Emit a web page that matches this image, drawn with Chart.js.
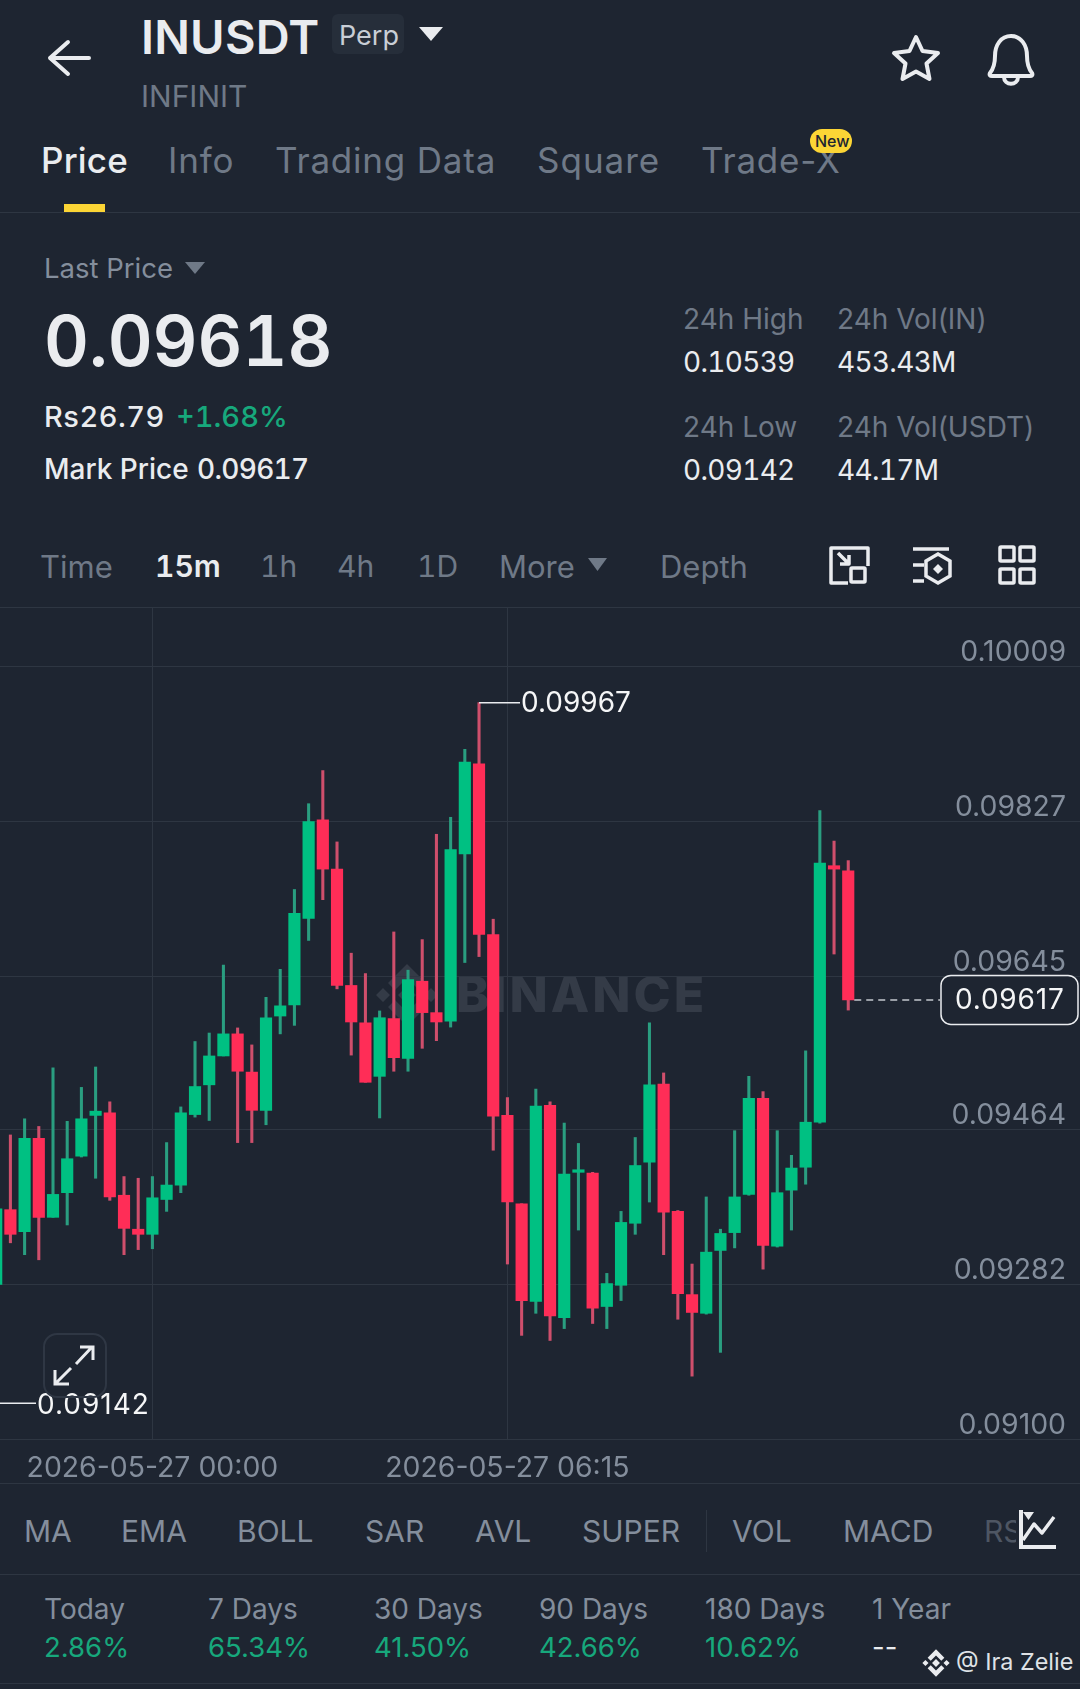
<!DOCTYPE html>
<html><head><meta charset="utf-8">
<script src="https://cdn.jsdelivr.net/npm/chart.js@4"></script>
<style>
html,body{margin:0;padding:0;background:#1e2531;width:1080px;height:1689px;overflow:hidden}
body{position:relative;font-family:Inter,"Noto Sans",sans-serif}
.t{position:absolute;white-space:nowrap;transform:translateY(-50%);line-height:1}
.r{position:absolute;left:0;width:1080px;height:1px;background:#2e3642}
svg{position:absolute;overflow:visible}
canvas{position:absolute;left:0;top:607px}
</style></head><body>
<div id="ui"></div>
<canvas id="c" width="1080" height="876"></canvas>
<div id="top"></div>
<script>
const times=['21:15','21:30','21:45','22:00','22:15','22:30','22:45','23:00','23:15','23:30','23:45',
'00:00','00:15','00:30','00:45','01:00','01:15','01:30','01:45','02:00','02:15','02:30','02:45','03:00','03:15','03:30','03:45',
'04:00','04:15','04:30','04:45','05:00','05:15','05:30','05:45','06:00','06:15','06:30','06:45','07:00','07:15','07:30','07:45',
'08:00','08:15','08:30','08:45','09:00','09:15','09:30','09:45','10:00','10:15','10:30','10:45','11:00','11:15','11:30','11:45','12:00','12:15'];
const opens=[.09282,.09370,.09344,.09454,.09361,.09390,.09433,.09481,.09484,.09387,.09347,
.09341,.09382,.09399,.09482,.09517,.09551,.09577,.09532,.09487,.09598,.09611,.09713,.09829,.09771,.09634,.09590,.09527,.09595,.09548,.09639,.09602,.09592,.09789,.09895,.09694,
.09481,.09377,.09262,.09493,.09243,.09414,.09413,.09256,.09281,.09354,.09426,.09518,.09368,.09270,.09248,.09322,.09343,.09388,.09501,.09327,.09393,.09420,.09473,.09775,.09769];
const highs=[.09371,.09458,.09477,.09468,.09537,.09474,.09514,.09538,.09497,.09409,.09407,
.09409,.09449,.09491,.09568,.09578,.09658,.09584,.09564,.09620,.09653,.09747,.09848,.09887,.09803,.09672,.09648,.09604,.09697,.09652,.09688,.09812,.09832,.09912,.09967,.09712,
.09502,.09377,.09512,.09497,.09472,.09448,.09414,.09295,.09368,.09455,.09590,.09531,.09369,.09306,.09385,.09347,.09463,.09527,.09509,.09463,.09434,.09557,.09840,.09804,.09781];
const lows=[.09282,.09331,.09317,.09311,.09361,.09352,.09432,.09407,.09381,.09317,.09323,
.09324,.09368,.09390,.09479,.09475,.09551,.09449,.09449,.09470,.09577,.09587,.09687,.09735,.09630,.09552,.09520,.09478,.09533,.09533,.09560,.09569,.09585,.09661,.09668,.09440,
.09306,.09222,.09248,.09216,.09230,.09346,.09236,.09230,.09263,.09341,.09379,.09317,.09241,.09174,.09247,.09202,.09325,.09387,.09300,.09326,.09346,.09400,.09472,.09671,.09605];
const closes=[.09371,.09341,.09454,.09361,.09388,.09430,.09477,.09486,.09385,.09348,.09341,
.09384,.09399,.09484,.09515,.09551,.09577,.09533,.09487,.09596,.09610,.09719,.09827,.09771,.09634,.09591,.09520,.09596,.09549,.09641,.09602,.09591,.09794,.09897,.09694,.09480,
.09379,.09263,.09492,.09245,.09412,.09417,.09254,.09283,.09355,.09422,.09517,.09367,.09271,.09249,.09320,.09342,.09385,.09501,.09328,.09390,.09419,.09473,.09778,.09771,.09617];
const priceTicks=[0.10009,0.09827,0.09645,0.09464,0.09282,0.09100];
const timeTicks=['00:00','06:15'];
const tickDate='2026-05-27 ';
const visibleHigh=0.09967, visibleLow=0.09142, lastPrice=0.09617;

const UP='#00c082',DOWN='#ff2d57',UPW='#2a9e80',DOWNW='#cf4f6c';
const colorOf=(i,u,d)=>closes[i]>=opens[i]?u:d;

const ui=document.getElementById('ui');
const W='#eaecef',G='#6f7987',G2='#848e9c',GR='#17a87c';
function T(s,x,y,size,color,weight,extra){const e=document.createElement('div');e.className='t';e.textContent=s;
 e.style.cssText=`left:${x}px;top:${y}px;font-size:${size}px;color:${color};font-weight:${weight||400};${extra||''}`;ui.appendChild(e);return e;}
function R(y,c){const e=document.createElement('div');e.className='r';e.style.top=y+'px';if(c)e.style.background=c;ui.appendChild(e);}
function B(x,y,w,h,c,rad,extra){const e=document.createElement('div');e.style.cssText=`position:absolute;left:${x}px;top:${y}px;width:${w}px;height:${h}px;background:${c};border-radius:${rad||0}px;${extra||''}`;ui.appendChild(e);}
function S(html){ui.insertAdjacentHTML('beforeend',`<svg style="left:0;top:0" width="1080" height="1689" viewBox="0 0 1080 1689" fill="none">${html}</svg>`);}
const SP='letter-spacing:.8px';
const TN='font-variant-numeric:tabular-nums;';
const TNV=TN+'letter-spacing:-.7px';
const LOGO=`<path d="M0 -31L19 -12L12 -5L0 -17L-12 -5L-19 -12ZM0 31L19 12L12 5L0 17L-12 5L-19 12ZM0 -9L9 0L0 9L-9 0ZM-24 -7L-17 0L-24 7L-31 0ZM24 -7L31 0L24 7L17 0Z"`;

/* header */
S(`<path d="M50 58H89M68 42L50 58L68 74" stroke="#eaecef" stroke-width="4" stroke-linecap="round" stroke-linejoin="round"/>`);
T('INUSDT',141,36,47,W,600,'letter-spacing:.2px');
B(332,14,72,40,'#262e3a',6);
T('Perp',339,35,27,'#c9ced6');
S(`<path d="M419 27H443L431 41Z" fill="#eaecef"/>`);
T('INFINIT',141,96,30,G);
S(`<path d="M916 37L922.5 51L938 53L926.5 63.5L929.5 79L916 71.5L902.5 79L905.5 63.5L894 53L909.5 51Z" stroke="#eaecef" stroke-width="4" stroke-linejoin="round"/>
<path d="M990 73C994 68 995 64 995 56C995 45 1001 36 1011 36C1021 36 1027 45 1027 56C1027 64 1028 68 1032 73C1033 75 1032 76 1030 76H992C990 76 989 75 990 73ZM1004 77C1004 86 1018 86 1018 77" stroke="#eaecef" stroke-width="4" stroke-linejoin="round"/>`);
/* tabs */
T('Price',41,160,35,W,500,'letter-spacing:.2px');
T('Info',168,160,35,G,400,SP);
T('Trading Data',275,160,35,G,400,SP);
T('Square',537,160,35,G,400,'letter-spacing:1px');
T('Trade-X',701,160,35,G,400,SP);
B(810,129,42,24,'#fcd535',12);
T('New',815,141,16,'#1e2531',500);
B(64,204,41,8,'#fcd535');
R(212);
/* price block */
T('Last Price',44,269,27.5,G2);
S(`<path d="M185 262H205L195 274Z" fill="#6f7987"/>`);
T('0.09618',44,342,69.5,W,600,TN);
T('Rs26.79',44,416,29,W,500,TN+'letter-spacing:.5px');
T('+1.68%',176,416,29,GR,500,TN);
T('Mark Price',44,469,28,W,500);
T('0.09617',197,469,28,W,500,TNV);
T('24h High',683,319,28,G,400);T('24h Vol(IN)',837,319,28,G,400);
T('0.10539',683,362,28,W,400,TNV);T('453.43M',837,362,28,W,400,TNV);
T('24h Low',683,427,28,G,400);T('24h Vol(USDT)',837,427,28,G,400);
T('0.09142',683,470,28,W,400,TNV);T('44.17M',837,470,28,W,400,TNV);
/* interval row */
T('Time',40,566,31,G);T('15m',155,566,30,W,600,TN);T('1h',260,566,30,G,400,TN);T('4h',337,566,30,G,400,TN);T('1D',417,566,30,G,400,TN);T('More',499,566,31,G);
S(`<path d="M588 558H607L597.500 571Z" fill="#6f7987"/>`);
T('Depth',660,566,31,G);
S(`<path d="M868 566V548H831V583H848M838 553L849 564M849 555V564H840" stroke="#eaecef" stroke-width="3.500" stroke-linejoin="round"/><rect x="851" y="568" width="14" height="14" stroke="#eaecef" stroke-width="3.500" rx="1"/>
<path d="M913 549H949M913 565H924M913 581H924" stroke="#eaecef" stroke-width="3.500"/><path d="M938 554L950 561V576L938 583L926 576V561Z" stroke="#eaecef" stroke-width="3.500"/><path d="M938 564L943 569L938 574L933 569Z" fill="#eaecef"/>
<rect x="1000" y="547" width="14" height="14" stroke="#eaecef" stroke-width="3.500" rx="1"/><rect x="1020" y="547" width="14" height="14" stroke="#eaecef" stroke-width="3.500" rx="1"/><rect x="1000" y="569" width="14" height="14" stroke="#eaecef" stroke-width="3.500" rx="1"/><rect x="1020" y="569" width="14" height="14" stroke="#eaecef" stroke-width="3.500" rx="1"/>`);
R(607);
/* watermark behind the chart */
T('BINANCE',456,994,50,'#343b47',800,'letter-spacing:3px');
S(`<g transform="translate(407,995)">${LOGO} fill="#343b47"/></g>`);
R(1483);
/* indicator row */
[['MA',24],['EMA',121],['BOLL',237],['SAR',365],['AVL',475],['SUPER',582],['VOL',732],['MACD',843]].forEach(a=>T(a[0],a[1],1531,30,G2));
T('RS',984,1531,30,'#4e5663');
B(706,1510,1,42,'#2e3642');
B(1016,1500,64,60,'#1e2531');
S(`<path d="M1021 1510V1547H1056" stroke="#eaecef" stroke-width="4"/><path d="M1023 1540L1034 1524L1042 1533L1054 1517" stroke="#eaecef" stroke-width="3.500" stroke-linejoin="round"/><path d="M1023 1512H1034L1028.500 1520Z" fill="#eaecef"/>`);
R(1574);
/* period stats */
[['Today','2.86%',44],['7 Days','65.34%',208],['30 Days','41.50%',374],['90 Days','42.66%',539],['180 Days','10.62%',705],['1 Year','--',872]].forEach(a=>{T(a[0],a[2],1609,28,G2);T(a[1],a[2],1648,27.5,a[1]=='--'?W:GR);});
R(1683);
S(`<g transform="translate(936,1663) scale(.44)">${LOGO} fill="#eaecef"/></g>`);
T('@ Ira Zelie',956,1662,23.4,'#dfe2e6');
/* expand button */
function overlay(){
 const top=document.getElementById('top');
 top.innerHTML=`<div style="position:absolute;left:43px;top:1333px;width:60px;height:61px;border:2px solid #2f3744;border-radius:14px"></div>
 <svg style="left:0;top:0" width="1080" height="1689" viewBox="0 0 1080 1689" fill="none"><path d="M76 1364L92 1347M80 1347H93V1360M71 1368L56 1383M55 1370V1384H69" stroke="#eaecef" stroke-width="3"/></svg>`;
}
overlay();

const bodyData=times.map((_,i)=>({x:i,y:[opens[i],closes[i]]}));
const wickData=times.map((_,i)=>({x:i,y:[lows[i],highs[i]]}));
const LABEL='28px Inter, "Noto Sans", sans-serif';
const marks={id:'marks',afterDatasetsDraw(ch){
 const c=ch.ctx,y=ch.scales.y,x=ch.scales.x;
 c.save();c.font=LABEL;c.textBaseline='middle';c.textAlign='left';
 const hi=highs.indexOf(visibleHigh),hy=y.getPixelForValue(visibleHigh),hx=x.getPixelForValue(hi);
 c.strokeStyle='#eaecef';c.lineWidth=1.5;
 c.beginPath();c.moveTo(hx,hy);c.lineTo(520,hy);c.stroke();
 c.fillStyle='#f5f6f7';c.fillText(visibleHigh.toFixed(5),521,hy+1);
 const ly=y.getPixelForValue(visibleLow);
 c.beginPath();c.moveTo(0,ly);c.lineTo(36,ly);c.stroke();
 c.letterSpacing='1px';
 c.fillText(visibleLow.toFixed(5),37,ly+2);
 c.letterSpacing='.8px';
 const py=y.getPixelForValue(lastPrice),px=x.getPixelForValue(times.length-1)+6;
 c.setLineDash([7,5]);c.strokeStyle='#c4c8ce';c.beginPath();c.moveTo(px,py);c.lineTo(940,py);c.stroke();c.setLineDash([]);
 c.strokeStyle='#eaecef';c.lineWidth=1.5;c.beginPath();c.roundRect(941,py-24.500,137,49,10);c.stroke();
 c.fillStyle='#f5f6f7';c.fillText(lastPrice.toFixed(5),955,py+1);
 c.restore();
}};
new Chart(document.getElementById('c'),{
 type:'bar',
 data:{labels:times,datasets:[
  {label:'Body',data:bodyData,barThickness:11.5,grouped:false,backgroundColor:times.map((_,i)=>colorOf(i,UP,DOWN)),borderWidth:0,order:1},
  {label:'Wick',data:wickData,barThickness:2.4,grouped:false,backgroundColor:times.map((_,i)=>colorOf(i,UPW,DOWNW)),borderWidth:0,order:2}
 ]},
 options:{responsive:false,animation:false,devicePixelRatio:1,events:[],
  layout:{padding:0},
  plugins:{legend:{display:false},tooltip:{enabled:false}},
  scales:{
   x:{type:'linear',offset:false,min:0.2676,max:76.3196,
    afterBuildTicks(s){s.ticks=timeTicks.map(t=>({value:times.indexOf(t)}));},
    afterFit(s){s.height=44;s.paddingLeft=0;s.paddingRight=0;},
    grid:{offset:false,color:'#2e3642',lineWidth:1,drawTicks:false},border:{display:false},
    ticks:{autoSkip:false,maxRotation:0,padding:12,color:'#848e9c',font:{family:'Inter',size:28.4},callback:v=>tickDate+times[v]}},
   y:{type:'linear',position:'right',min:0.091,max:0.100796,
    afterBuildTicks(s){s.ticks=priceTicks.map(v=>({value:v}));},
    afterFit(s){s.width=0;s.paddingTop=0;s.paddingBottom=0;},
    grid:{color:'#2e3642',lineWidth:1,drawTicks:false},border:{display:false},
    ticks:{mirror:true,autoSkip:false,padding:-14,labelOffset:-14,color:'#848e9c',font:{family:'Inter',size:28.4},callback:v=>v.toFixed(5)}}
  }},
 plugins:[marks]
});
</script>
</body></html>
